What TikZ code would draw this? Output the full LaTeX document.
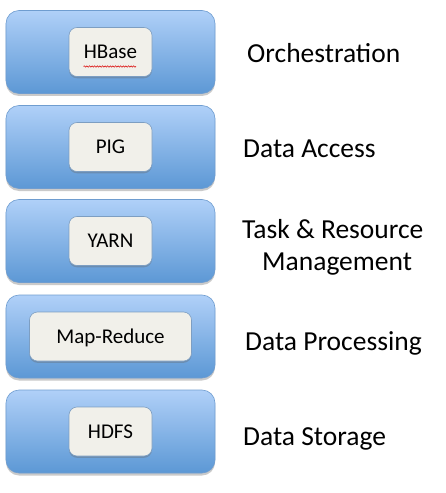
\documentclass[tikz,border=0pt]{standalone}
\usepackage{fontspec}
\setmainfont{Carlito}
\usetikzlibrary{shadows,decorations.pathmorphing}
\definecolor{outtop}{HTML}{B0D0F8}
\definecolor{outbot}{HTML}{5C98D5}
\definecolor{outline}{HTML}{6F9DD0}
\definecolor{infill}{HTML}{F1F0EA}
\definecolor{inline}{HTML}{7D9EC2}
\tikzset{
  layer/.style={draw=outline, line width=0.6bp, rounded corners=13bp,
    top color=outtop, bottom color=outbot, shading angle=0,
    minimum width=209bp, minimum height=83bp, inner sep=0pt,
    drop shadow={shadow xshift=0bp, shadow yshift=-2.5bp, opacity=0.35, fill=black!60}},
  comp/.style={draw=inline, line width=0.6bp, rounded corners=8bp, fill=infill,
    minimum height=49bp, inner sep=0pt, text height=13.5bp, text depth=0bp,
    font=\fontsize{21bp}{25bp}\selectfont,
    drop shadow={shadow xshift=0bp, shadow yshift=-1.8bp, opacity=0.35, fill=black!60}},
  lbl/.style={anchor=base west, inner sep=0pt, font=\fontsize{27.5bp}{32bp}\selectfont}
}
\begin{document}
\begin{tikzpicture}[x=1bp,y=-1bp]
\useasboundingbox (0,0) rectangle (446,493);
\node[layer] (l1) at (110.5,52) {};
\node[layer] (l2) at (110.5,147) {};
\node[layer] (l3) at (110.5,241) {};
\node[layer] (l4) at (110.5,336.5) {};
\node[layer] (l5) at (110.5,431.5) {};
\node[comp, minimum width=83bp] (hbase) at (l1.center) {HBase};
\node[comp, minimum width=83bp] (pig) at (l2.center) {PIG};
\node[comp, minimum width=83bp] (yarn) at (l3.center) {YARN};
\node[comp, minimum width=162bp] (mr) at (l4.center) {Map-Reduce};
\node[comp, minimum width=83bp] (hdfs) at (l5.center) {HDFS};
\coordinate (sq1) at (83.5,66.5);
\coordinate (sq2) at (136,66.5);
\draw[red!85!black, line width=0.5bp, decorate, decoration={snake, amplitude=0.7bp, segment length=2.6bp}] (sq1) -- (sq2);
\node[lbl] (t1) at (247,63) {Orchestration};
\node[lbl] (t2) at (243,158) {Data Access};
\node[lbl] (t3) at (242,238) {Task \& Resource};
\node[lbl] (t3b) at (262,270) {Management};
\node[lbl] (t4) at (245,350) {Data Processing};
\node[lbl] (t5) at (243,445) {Data Storage};
\end{tikzpicture}
\end{document}
